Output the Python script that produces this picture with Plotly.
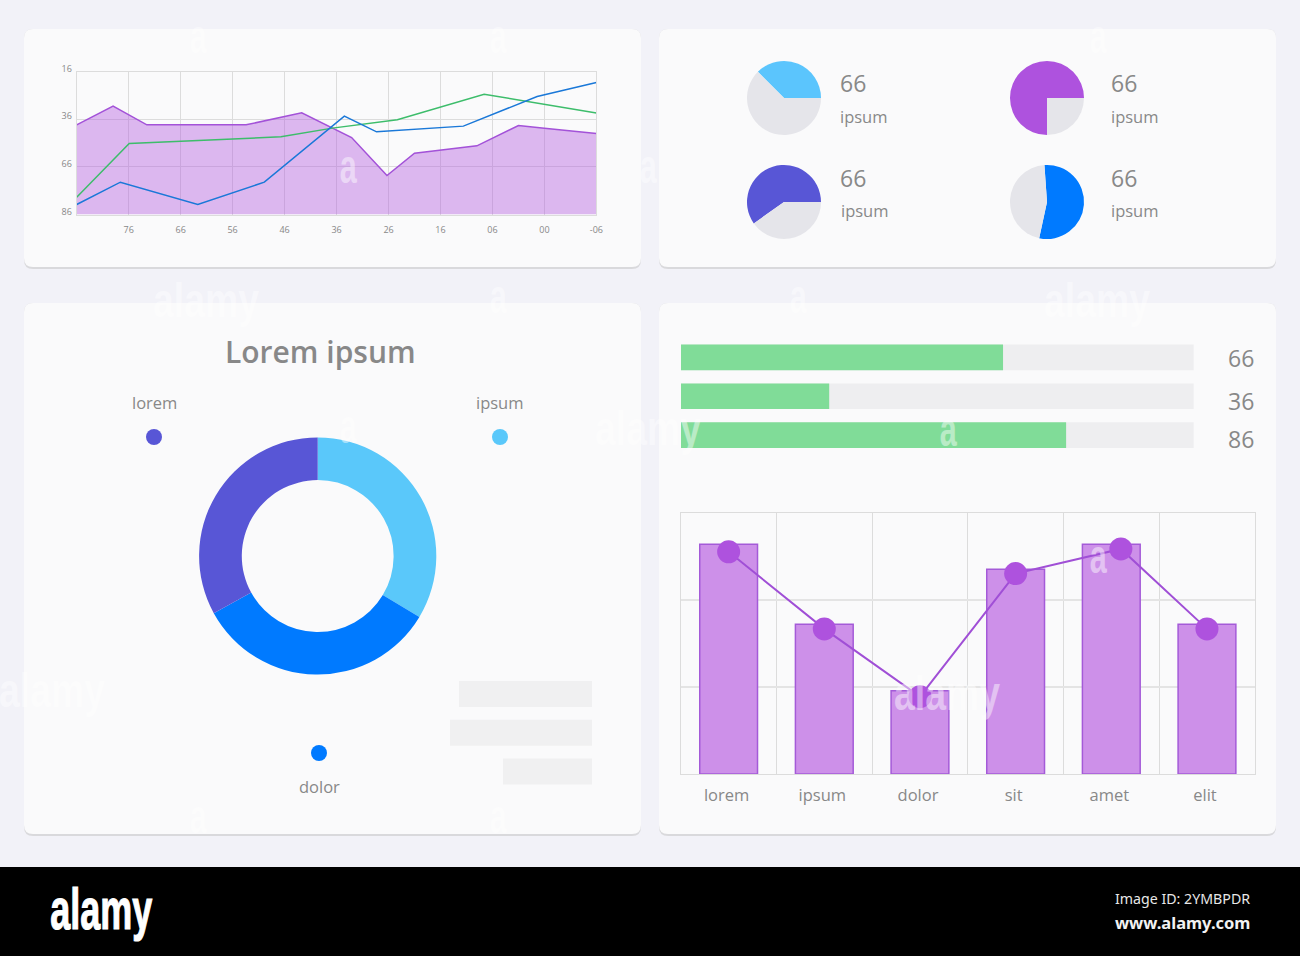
import plotly.graph_objects as go

W, H = 1300, 956

# line chart
purple_x = [0, 0.70, 1.35, 3.26, 4.33, 5.29, 5.97, 6.50, 7.70, 8.50, 9.0, 10]
purple_y = [62.7, 75.8, 62.7, 62.7, 71.1, 53.8, 27.3, 42.9, 48.0, 62.2, 60.4, 56.6]
green_x = [0, 1.01, 3.93, 4.92, 6.17, 7.84, 10]
green_y = [12.1, 49.7, 54.3, 60.4, 66.2, 84.1, 70.9]
blue_x = [0, 0.84, 2.33, 3.61, 5.15, 5.77, 7.44, 8.86, 10]
blue_y = [7, 22.6, 7, 22.6, 68.8, 57.8, 61.8, 82.5, 92.3]
line_xticks = ["76", "66", "56", "46", "36", "26", "16", "06", "00", "-06"]
line_yticks = ["86", "66", "36", "16"]

# small pies
pie_values = [[37.5, 62.5], [75, 25], [59.8, 40.2], [54.5, 45.5]]
pie_rotation = [-45, 180, -125.3, -4]
pie_colors = ["#5bc5fd", "#ae52de", "#5856d6", "#007aff"]

# donut
donut_labels = ["ipsum", "dolor", "lorem"]
donut_values = [33.6, 33.4, 33.0]
donut_colors = ["#5ac8fa", "#007aff", "#5856d6"]

# grey placeholder bars
grey_bars = [133, 142, 89]

# progress bars
progress = [62.8, 28.9, 75.1]
progress_labels = ["66", "36", "86"]

# combo chart
combo_cats = ["lorem", "ipsum", "dolor", "sit", "amet", "elit"]
combo_bars = [79.3, 51.7, 28.7, 70.7, 79.3, 51.7]
combo_line_x = [0, 1, 2, 3, 4.1, 5]
combo_line = [76.7, 50.1, 26.7, 69.2, 77.7, 50.1]

GREY = "#888888"
FONT = "Open Sans"


def px(x):
    return x / W


def py(y):
    return 1 - y / H


def note(x, y, text, size, color=GREY, weight=400, family=FONT, opacity=1):
    return dict(x=px(x), y=py(y), xref="paper", yref="paper", text=text, xanchor="center", yanchor="middle",
                showarrow=False, opacity=opacity, font=dict(size=size, color=color, family=family, weight=weight))


def card(x0, y0, x1, y1, color, r=9):
    path = (f"M {px(x0 + r)} {py(y0)} L {px(x1 - r)} {py(y0)} Q {px(x1)} {py(y0)} {px(x1)} {py(y0 + r)} "
            f"L {px(x1)} {py(y1 - r)} Q {px(x1)} {py(y1)} {px(x1 - r)} {py(y1)} L {px(x0 + r)} {py(y1)} "
            f"Q {px(x0)} {py(y1)} {px(x0)} {py(y1 - r)} L {px(x0)} {py(y0 + r)} Q {px(x0)} {py(y0)} {px(x0 + r)} {py(y0)} Z")
    return dict(type="path", path=path, xref="paper", yref="paper", fillcolor=color, line_width=0, layer="below")


def dot(x, y, color, r=8):
    return dict(type="circle", xref="paper", yref="paper", x0=px(x - r), x1=px(x + r), y0=py(y + r), y1=py(y - r),
                fillcolor=color, line_width=0)


def dom_x(a, b):
    return [px(a), px(b)]


def dom_y(top, bottom):
    return [py(bottom), py(top)]


fig = go.Figure()

# top left lines
fig.add_trace(go.Scatter(x=purple_x, y=purple_y, mode="lines", fill="tozeroy", fillcolor="rgba(174,82,222,0.40)",
                         line=dict(color="#a352d8", width=1.5), xaxis="x", yaxis="y"))
fig.add_trace(go.Scatter(x=green_x, y=green_y, mode="lines", line=dict(color="#3dbd6b", width=1.5), xaxis="x", yaxis="y"))
fig.add_trace(go.Scatter(x=blue_x, y=blue_y, mode="lines", line=dict(color="#1a78d8", width=1.5), xaxis="x", yaxis="y"))

# top right pies
pie_boxes = [(747, 61), (1010, 61), (747, 165), (1010, 165)]
for vals, rot, col, (bx, by) in zip(pie_values, pie_rotation, pie_colors, pie_boxes):
    fig.add_trace(go.Pie(values=vals, rotation=rot, sort=False, direction="clockwise", textinfo="none",
                         marker=dict(colors=[col, "#e5e5ea"], line=dict(width=0)),
                         domain=dict(x=dom_x(bx, bx + 74), y=dom_y(by, by + 74)), showlegend=False))

# donut
fig.add_trace(go.Pie(labels=donut_labels, values=donut_values, hole=0.64, sort=False, direction="clockwise", rotation=0,
                     textinfo="none", marker=dict(colors=donut_colors, line=dict(width=0)),
                     domain=dict(x=dom_x(199, 436.4), y=dom_y(437.4, 674.6)), showlegend=False))

# grey bars
fig.add_trace(go.Bar(x=grey_bars, y=[0, 1, 2], orientation="h", width=0.67, marker=dict(color="#f0f0f1", line_width=0),
                     xaxis="x4", yaxis="y4"))

# progress
fig.add_trace(go.Bar(x=[100, 100, 100], y=[0, 1, 2], orientation="h", width=0.66, marker=dict(color="#eeeef0", line_width=0),
                     xaxis="x2", yaxis="y2"))
fig.add_trace(go.Bar(x=progress, y=[0, 1, 2], orientation="h", width=0.66, marker=dict(color="#80dc98", line_width=0),
                     xaxis="x2", yaxis="y2"))

# combo
fig.add_trace(go.Bar(x=list(range(6)), y=combo_bars, width=0.604,
                     marker=dict(color="#cd90e9", line=dict(color="#a45ad8", width=1.5)), xaxis="x3", yaxis="y3"))
fig.add_trace(go.Scatter(x=combo_line_x, y=combo_line, mode="lines+markers", line=dict(color="#a04fd6", width=2),
                         marker=dict(size=23, color="#ae52de"), xaxis="x3", yaxis="y3"))

shapes = [
    dict(type="rect", xref="paper", yref="paper", x0=0, x1=1, y0=0, y1=py(867), fillcolor="#000000", line_width=0, layer="below"),
]
for box in [(24, 29, 641, 268), (659, 29, 1276, 268), (24, 303, 641, 835), (659, 303, 1276, 835)]:
    x0, y0, x1, y1 = box
    shapes.append(card(x0, y0, x1, y1 + 1, "#d9d9dc"))
    shapes.append(card(x0, y0, x1, y1 - 1, "#fafafb"))
shapes += [dot(154, 437, "#5856d6"), dot(500, 437, "#5ac8fa"), dot(319, 753, "#007aff")]

annotations = [
    note(320, 351, "Lorem ipsum", 30, weight=600),
    note(154, 403, "lorem", 16.5),
    note(500, 403, "ipsum", 16.5),
    note(319, 786, "dolor", 16.5),
]
for x66, y66, xtxt, ytxt in [(852.7, 83, 864, 116), (1124, 83, 1135, 116), (853, 178, 865, 211), (1124, 178, 1135, 211)]:
    annotations.append(note(x66, y66, "66", 23))
    annotations.append(note(xtxt, ytxt, "ipsum", 16.5))
for label, y in zip(progress_labels, [358, 401, 439]):
    annotations.append(note(1241, y, label, 23))

LOGO = "Liberation Sans"
# footer
annotations += [
    note(101, 908, "alamy", 58, color="#ffffff", weight=700, family=LOGO),
    note(1182.5, 898, "Image ID: 2YMBPDR", 14.2, color="#e8e8e8", family="Noto Sans"),
    note(1182.5, 922, "www.alamy.com", 16.5, color="#f2f2f2", weight=700, family="Noto Sans"),
]
# stock-photo watermarks
for x, y in [(206, 300), (1097, 300), (648, 428), (52, 690), (947, 693)]:
    annotations.append(note(x, y, "alamy", 48, color="#ffffff", weight=700, family=LOGO, opacity=0.45))
for x, y in [(348, 166), (648, 166), (948, 429), (1098, 556), (498, 296), (798, 296), (348, 426), (198, 816), (498, 816), (198, 36), (498, 36), (1098, 36)]:
    annotations.append(note(x, y, "a", 48, color="#ffffff", weight=700, family=LOGO, opacity=0.45))

hidden = dict(visible=False, fixedrange=True)

fig.update_layout(
    width=W, height=H, autosize=False, margin=dict(l=0, r=0, t=0, b=0, autoexpand=False),
    paper_bgcolor="#f2f2f8", plot_bgcolor="rgba(0,0,0,0)",
    barmode="overlay", showlegend=False, shapes=shapes, annotations=annotations,
    font=dict(family=FONT, color=GREY),
    xaxis=dict(domain=dom_x(76.7, 596.4), range=[0, 10], tickmode="array", tickvals=list(range(1, 11)), ticktext=line_xticks,
               showgrid=True, gridcolor="#dcdcdc", gridwidth=1, zeroline=False, showline=True, linecolor="#dcdcdc", mirror=True,
               ticks="", tickfont=dict(size=9, color=GREY), ticklabelstandoff=7),
    yaxis=dict(domain=dom_y(71.5, 214.5), range=[0, 100], tickmode="array", tickvals=[0, 33.3, 66.7, 100], ticktext=line_yticks,
               showgrid=True, gridcolor="#dcdcdc", gridwidth=1, zeroline=False, showline=True, linecolor="#dcdcdc", mirror=True,
               ticks="", tickfont=dict(size=9, color=GREY), ticklabelshift=-3, ticklabelstandoff=2),
    xaxis2=dict(domain=dom_x(681, 1193.8), range=[0, 100], anchor="y2", **hidden),
    yaxis2=dict(domain=dom_y(337.8, 454.7), range=[2.5, -0.5], anchor="x2", **hidden),
    xaxis3=dict(domain=dom_x(680.8, 1254.8), range=[-0.5, 5.5], anchor="y3", tickmode="array", tickvals=list(range(6)),
                ticktext=combo_cats, showgrid=False, zeroline=False, showline=True, linecolor="#dcdcdc", mirror=True, ticks="",
                minor=dict(tickmode="array", tickvals=[-0.5, 0.5, 1.5, 2.5, 3.5, 4.5, 5.5], showgrid=True,
                           gridcolor="#dcdcdc", gridwidth=1, ticks=""),
                tickfont=dict(size=16.5, color=GREY), ticklabelshift=-2, ticklabelstandoff=6),
    yaxis3=dict(domain=dom_y(513.3, 774), range=[0, 90], anchor="x3", tickmode="array", tickvals=[30, 60], showticklabels=False,
                showgrid=True, gridcolor="#e4e4e4", gridwidth=1.5, zeroline=False, showline=True, linecolor="#dcdcdc", mirror=True),
    xaxis4=dict(domain=dom_x(450, 592), range=[142, 0], anchor="y4", **hidden),
    yaxis4=dict(domain=dom_y(674.6, 790.9), range=[2.5, -0.5], anchor="x4", **hidden),
)

# no condensed face is installed, so squeeze the logo text to its real width
squeeze = """
document.body.style.margin = '0';
document.querySelectorAll('.annotation-text').forEach(function (t) {
  var size = parseFloat(t.style.fontSize);
  var len = t.textContent === 'alamy' ? (size > 50 ? 102 : 106) : (t.textContent === 'a' ? 17 : 0);
  if (len) { t.setAttribute('textLength', len); t.setAttribute('lengthAdjust', 'spacingAndGlyphs'); }
  if (size > 50 && len) { t.style.stroke = '#ffffff'; t.style.strokeWidth = '1.2px'; }
});
"""
fig.write_html("out.html", config=dict(displayModeBar=False), post_script=squeeze)
